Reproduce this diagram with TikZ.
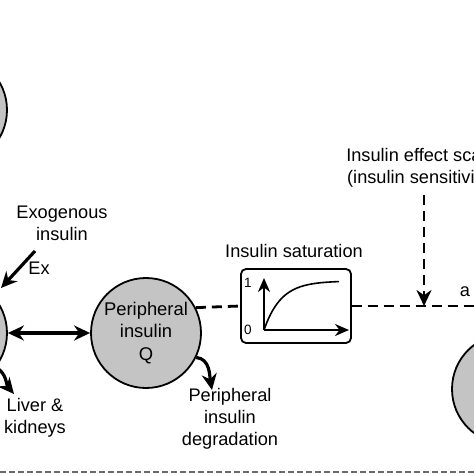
\documentclass[tikz,border=0pt]{standalone}
\usepackage{fontspec}
\setmainfont{Liberation Sans}
\usetikzlibrary{arrows.meta,positioning}
\definecolor{poolgray}{HTML}{C4C4C4}
\definecolor{dashgray}{HTML}{6A6A6A}
\tikzset{
  pool/.style={circle,draw=black,line width=1.8pt,fill=poolgray,minimum size=110pt,inner sep=0pt,align=center,
    font=\fontsize{18.4}{22.5}\selectfont},
  lbl/.style={align=center,inner sep=0pt,font=\fontsize{18.2}{22}\selectfont},
  small/.style={inner sep=0pt,font=\fontsize{13.5}{15}\selectfont},
  flow/.style={line width=3.2pt,-{Stealth[length=16pt,width=15pt]}},
  bflow/.style={line width=3.2pt,{Stealth[length=16pt,width=15pt]}-{Stealth[length=16pt,width=15pt]}},
  sig/.style={line width=2.8pt,dash pattern=on 10pt off 6pt},
  satbox/.style={draw=black,line width=1.8pt,rounded corners=5pt,minimum width=110pt,minimum height=74pt,inner sep=0pt},
  axis/.style={line width=2.4pt,-{Stealth[length=14pt,width=12pt]}}
}
\begin{document}
\begin{tikzpicture}[x=1pt,y=-1pt]
\useasboundingbox (0,0) rectangle (474,474);
% pools
\node[pool] (TL) at (-48,110) {};
\node[pool] (L) at (-48,333) {};
\node[pool] (Q) at (146,333) {Peripheral\\insulin\\Q};
\node[pool] (R) at (507,389) {};
% exchange
\draw[bflow] (L) -- (Q);
% exogenous insulin
\node[lbl] (exo) at (62,223) {Exogenous\\insulin};
\coordinate (exs) at (35,251);
\coordinate (exe) at (1,288);
\draw[flow] (exs) -- (exe);
\node[lbl] (ex) at (39,268) {Ex};
% liver & kidneys
\coordinate (lvt) at (14,394);
\draw[flow] (L.-38) to[out=-30,in=130] (lvt);
\node[lbl] (liver) at (35,418) {Liver \&\\kidneys};
% peripheral degradation
\coordinate (pdt) at (212,390);
\draw[flow] (Q.-26) to[out=-5,in=100] (pdt);
\node[lbl] (pdeg) at (230,419) {Peripheral\\insulin\\degradation};
% saturation box
\node[satbox] (box) at (296,306) {};
\node[lbl] (sattitle) at (294,251) {Insulin saturation};
\node[small] (one) at (248,283) {1};
\node[small] (zero) at (248,330) {0};
\coordinate (org) at (264,330);
\coordinate (ytop) at (264,278);
\coordinate (xend) at (349,330);
\draw[axis] (org) -- (ytop);
\draw[axis] (org) -- (xend);
\draw[line width=1.6pt] plot[domain=0:75,samples=60,smooth] ({264+\x},{330-49*(1-exp(-\x/17))});
% signal line
\coordinate (junc) at (424,306);
\coordinate (rend) at (480,306);
\draw[sig] (Q.27) -- (box.west);
\draw[sig] (box.east) -- (rend);
% insulin effect scale
\node[lbl] (ies) at (421,168) {Insulin effect scale\\(insulin sensitivity)};
\coordinate (iest) at (424,195);
\draw[sig,-{Stealth[length=16pt,width=15pt]}] (iest) -- (junc);
\node[lbl] (a) at (465,292) {a};
% bottom grey dashed line
\coordinate (bl) at (0,472);
\coordinate (br) at (474,472);
\draw[dashgray,line width=2.4pt,dash pattern=on 6pt off 3pt] (bl) -- (br);
\end{tikzpicture}
\end{document}
